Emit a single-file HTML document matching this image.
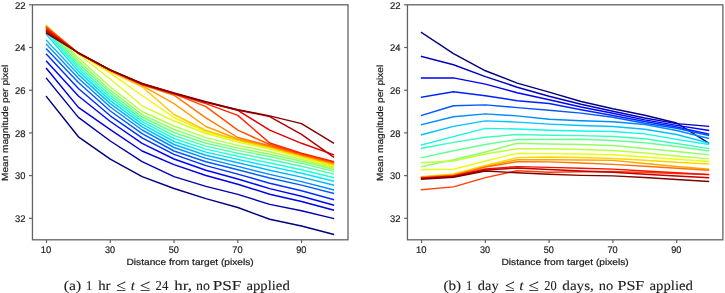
<!DOCTYPE html>
<html><head><meta charset="utf-8"><title>Figure</title>
<style>
html,body{margin:0;padding:0;background:#fff;}
body{width:725px;height:293px;overflow:hidden;}
svg{display:block;will-change:transform;}
text{font-family:"Liberation Sans",sans-serif;text-rendering:geometricPrecision;}
.tk{fill:#1e1e1e;stroke:#1e1e1e;stroke-width:0.2px;}
.lb{fill:#1e1e1e;stroke:#1e1e1e;stroke-width:0.22px;}
.cap{font-family:"Liberation Serif",serif;fill:#222;stroke:#222;stroke-width:0.1px;}
</style></head><body>
<svg width="725" height="293" viewBox="0 0 725 293">
<rect width="725" height="293" fill="#fff"/>
<defs><clipPath id="c0"><rect x="32.45" y="4.80" width="315.55" height="235.00"/></clipPath><clipPath id="c1"><rect x="407.45" y="4.80" width="315.45" height="235.00"/></clipPath></defs>
<g clip-path="url(#c0)"><g fill="none" stroke-width="1.45" stroke-linejoin="round" stroke-linecap="square">
<polyline points="46.5,96.6 78.4,136.8 110.3,159.2 142.1,176.6 174.0,188.5 205.9,198.6 237.8,207.5 269.7,219.2 301.5,226.0 333.4,234.3" stroke="#000080"/>
<polyline points="46.5,78.4 78.4,117.4 110.3,141.0 142.1,161.7 174.0,176.6 205.9,186.4 237.8,194.4 269.7,204.4 301.5,210.8 333.4,218.5" stroke="#0000b2"/>
<polyline points="46.5,68.5 78.4,107.4 110.3,129.6 142.1,151.0 174.0,164.6 205.9,175.5 237.8,184.2 269.7,194.2 301.5,201.5 333.4,210.1" stroke="#0000e4"/>
<polyline points="46.5,61.2 78.4,96.0 110.3,121.5 142.1,143.3 174.0,159.0 205.9,170.2 237.8,179.0 269.7,188.6 301.5,196.2 333.4,205.0" stroke="#0006ff"/>
<polyline points="46.5,54.2 78.4,88.5 110.3,115.8 142.1,137.8 174.0,154.4 205.9,165.6 237.8,174.1 269.7,183.3 301.5,190.8 333.4,199.5" stroke="#0032ff"/>
<polyline points="46.5,49.0 78.4,82.5 110.3,111.0 142.1,133.6 174.0,151.0 205.9,161.8 237.8,169.8 269.7,178.0 301.5,185.1 333.4,193.3" stroke="#005eff"/>
<polyline points="46.5,44.4 78.4,78.2 110.3,107.0 142.1,130.0 174.0,147.5 205.9,158.4 237.8,166.4 269.7,174.4 301.5,181.6 333.4,189.8" stroke="#008bff"/>
<polyline points="46.5,40.4 78.4,74.6 110.3,103.6 142.1,126.9 174.0,144.5 205.9,155.2 237.8,162.8 269.7,170.2 301.5,177.1 333.4,185.1" stroke="#00b7ff"/>
<polyline points="46.5,34.6 78.4,71.4 110.3,100.6 142.1,124.1 174.0,141.5 205.9,152.1 237.8,159.4 269.7,166.4 301.5,173.2 333.4,181.0" stroke="#00e3f9"/>
<polyline points="46.5,32.0 78.4,68.6 110.3,97.9 142.1,121.6 174.0,138.5 205.9,149.1 237.8,156.3 269.7,163.0 301.5,169.7 333.4,177.5" stroke="#22ffd5"/>
<polyline points="46.5,30.0 78.4,66.0 110.3,95.3 142.1,119.3 174.0,135.5 205.9,146.1 237.8,153.2 269.7,159.5 301.5,166.3 333.4,174.0" stroke="#46ffb1"/>
<polyline points="46.5,27.6 78.4,63.4 110.3,92.8 142.1,117.0 174.0,132.5 205.9,143.2 237.8,150.4 269.7,156.5 301.5,163.4 333.4,171.2" stroke="#6aff8d"/>
<polyline points="46.5,25.9 78.4,60.7 110.3,90.2 142.1,114.6 174.0,129.5 205.9,140.6 237.8,148.0 269.7,154.2 301.5,161.3 333.4,169.4" stroke="#8dff6a"/>
<polyline points="46.5,25.2 78.4,57.9 110.3,87.0 142.1,111.5 174.0,126.0 205.9,137.6 237.8,145.4 269.7,151.8 301.5,159.5 333.4,168.0" stroke="#b1ff46"/>
<polyline points="46.5,26.6 78.4,54.3 110.3,79.0 142.1,105.8 174.0,121.0 205.9,133.5 237.8,142.0 269.7,149.0 301.5,157.5 333.4,166.8" stroke="#d5ff22"/>
<polyline points="46.5,27.0 78.4,53.5 110.3,73.2 142.1,95.5 174.0,117.5 205.9,131.8 237.8,140.6 269.7,148.0 301.5,156.8 333.4,165.7" stroke="#f9f400"/>
<polyline points="46.5,27.4 78.4,53.4 110.3,71.6 142.1,86.8 174.0,114.5 205.9,130.5 237.8,140.0 269.7,147.3 301.5,156.1 333.4,164.6" stroke="#ffca00"/>
<polyline points="46.5,26.5 78.4,53.3 110.3,70.4 142.1,85.6 174.0,103.7 205.9,126.5 237.8,139.0 269.7,146.5 301.5,155.4 333.4,163.6" stroke="#ffa100"/>
<polyline points="46.5,26.9 78.4,53.2 110.3,70.3 142.1,84.9 174.0,95.2 205.9,117.9 237.8,137.5 269.7,145.8 301.5,154.7 333.4,162.8" stroke="#ff7800"/>
<polyline points="46.5,27.6 78.4,53.2 110.3,70.3 142.1,84.6 174.0,93.8 205.9,106.6 237.8,130.2 269.7,144.5 301.5,154.0 333.4,162.1" stroke="#ff4f00"/>
<polyline points="46.5,28.7 78.4,53.1 110.3,70.2 142.1,84.3 174.0,93.9 205.9,103.6 237.8,115.4 269.7,143.0 301.5,153.2 333.4,161.4" stroke="#ff2600"/>
<polyline points="46.5,30.1 78.4,53.0 110.3,70.1 142.1,84.0 174.0,93.6 205.9,102.4 237.8,110.3 269.7,130.2 301.5,143.3 333.4,154.6" stroke="#e40000"/>
<polyline points="46.5,31.7 78.4,53.0 110.3,70.1 142.1,83.7 174.0,93.3 205.9,102.1 237.8,110.0 269.7,116.6 301.5,134.3 333.4,157.0" stroke="#b20000"/>
<polyline points="46.5,33.2 78.4,52.9 110.3,70.0 142.1,83.4 174.0,93.0 205.9,101.8 237.8,109.7 269.7,115.9 301.5,123.6 333.4,143.0" stroke="#800000"/>
</g></g>
<g clip-path="url(#c1)"><g fill="none" stroke-width="1.45" stroke-linejoin="round" stroke-linecap="square">
<polyline points="421.6,32.6 453.5,53.7 485.4,70.8 517.2,83.1 549.1,92.1 581.0,101.5 612.9,108.8 644.8,115.2 676.6,123.0 708.5,143.0" stroke="#000080"/>
<polyline points="421.6,56.4 453.5,64.8 485.4,76.6 517.2,87.2 549.1,96.2 581.0,104.3 612.9,111.3 644.8,118.0 676.6,123.6 708.5,126.3" stroke="#0000bd"/>
<polyline points="421.6,77.9 453.5,77.9 485.4,84.1 517.2,92.8 549.1,99.7 581.0,107.0 612.9,113.2 644.8,119.9 676.6,125.4 708.5,130.3" stroke="#0000fa"/>
<polyline points="421.6,97.1 453.5,91.7 485.4,95.7 517.2,100.7 549.1,103.5 581.0,109.7 612.9,115.5 644.8,121.5 676.6,127.0 708.5,134.1" stroke="#0022ff"/>
<polyline points="421.6,115.4 453.5,105.8 485.4,104.9 517.2,107.6 549.1,110.3 581.0,113.1 612.9,117.3 644.8,123.2 676.6,128.3 708.5,135.3" stroke="#0057ff"/>
<polyline points="421.6,124.7 453.5,116.7 485.4,113.9 517.2,115.9 549.1,119.3 581.0,120.7 612.9,121.7 644.8,124.5 676.6,130.5 708.5,138.3" stroke="#008dff"/>
<polyline points="421.6,134.8 453.5,126.4 485.4,120.9 517.2,122.1 549.1,124.1 581.0,125.5 612.9,126.5 644.8,129.2 676.6,134.5 708.5,142.9" stroke="#00c3ff"/>
<polyline points="421.6,144.9 453.5,136.6 485.4,128.4 517.2,129.0 549.1,130.3 581.0,131.0 612.9,131.5 644.8,133.9 676.6,139.4 708.5,144.3" stroke="#0ff8e8"/>
<polyline points="421.6,148.3 453.5,142.4 485.4,137.2 517.2,134.5 549.1,135.2 581.0,135.6 612.9,136.5 644.8,138.7 676.6,143.5 708.5,148.5" stroke="#3affbc"/>
<polyline points="421.6,157.6 453.5,150.7 485.4,144.5 517.2,139.5 549.1,139.5 581.0,139.3 612.9,140.5 644.8,142.8 676.6,146.5 708.5,150.9" stroke="#66ff91"/>
<polyline points="421.6,166.6 453.5,159.7 485.4,152.0 517.2,143.3 549.1,144.0 581.0,144.5 612.9,145.5 644.8,148.5 676.6,151.5 708.5,154.8" stroke="#91ff66"/>
<polyline points="421.6,162.7 453.5,161.0 485.4,154.0 517.2,148.8 549.1,148.8 581.0,149.5 612.9,150.5 644.8,153.0 676.6,156.0 708.5,158.8" stroke="#bcff3a"/>
<polyline points="421.6,169.7 453.5,169.3 485.4,161.0 517.2,153.4 549.1,153.6 581.0,154.0 612.9,154.8 644.8,157.0 676.6,159.2 708.5,161.5" stroke="#e8ff0f"/>
<polyline points="421.6,176.6 453.5,174.0 485.4,165.5 517.2,157.6 549.1,157.0 581.0,157.5 612.9,158.5 644.8,160.3 676.6,162.2 708.5,164.0" stroke="#ffd500"/>
<polyline points="421.6,177.0 453.5,175.0 485.4,166.6 517.2,159.7 549.1,159.8 581.0,160.0 612.9,160.4 644.8,163.5 676.6,166.5 708.5,169.1" stroke="#ffa400"/>
<polyline points="421.6,177.5 453.5,175.5 485.4,167.0 517.2,161.7 549.1,161.9 581.0,163.0 612.9,164.4 644.8,166.3 676.6,168.3 708.5,170.2" stroke="#ff7200"/>
<polyline points="421.6,189.7 453.5,186.9 485.4,177.6 517.2,170.7 549.1,172.2 581.0,171.8 612.9,171.5 644.8,172.5 676.6,173.5 708.5,174.4" stroke="#ff4000"/>
<polyline points="421.6,178.0 453.5,176.0 485.4,169.0 517.2,166.6 549.1,167.4 581.0,168.2 612.9,169.1 644.8,171.0 676.6,172.8 708.5,174.6" stroke="#fa0e00"/>
<polyline points="421.6,178.5 453.5,176.5 485.4,170.0 517.2,168.0 549.1,169.5 581.0,171.0 612.9,172.3 644.8,174.2 676.6,176.0 708.5,177.8" stroke="#bd0000"/>
<polyline points="421.6,179.3 453.5,177.2 485.4,171.0 517.2,172.8 549.1,174.3 581.0,175.4 612.9,175.9 644.8,177.5 676.6,179.5 708.5,181.4" stroke="#800000"/>
</g></g>
<rect x="32.45" y="4.80" width="315.55" height="235.00" fill="none" stroke="#636363" stroke-width="1.30"/>
<line x1="29.05" y1="4.80" x2="32.45" y2="4.80" stroke="#636363" stroke-width="1.2"/>
<text class="tk" x="14.97" y="8.50" font-size="9.60" textLength="10.57" lengthAdjust="spacingAndGlyphs">22</text>
<line x1="29.05" y1="47.50" x2="32.45" y2="47.50" stroke="#636363" stroke-width="1.2"/>
<text class="tk" x="14.98" y="51.20" font-size="9.60" textLength="10.37" lengthAdjust="spacingAndGlyphs">24</text>
<line x1="29.05" y1="90.20" x2="32.45" y2="90.20" stroke="#636363" stroke-width="1.2"/>
<text class="tk" x="14.98" y="93.90" font-size="9.60" textLength="10.52" lengthAdjust="spacingAndGlyphs">26</text>
<line x1="29.05" y1="132.90" x2="32.45" y2="132.90" stroke="#636363" stroke-width="1.2"/>
<text class="tk" x="14.98" y="136.60" font-size="9.60" textLength="10.47" lengthAdjust="spacingAndGlyphs">28</text>
<line x1="29.05" y1="175.60" x2="32.45" y2="175.60" stroke="#636363" stroke-width="1.2"/>
<text class="tk" x="15.08" y="179.30" font-size="9.60" textLength="10.37" lengthAdjust="spacingAndGlyphs">30</text>
<line x1="29.05" y1="218.30" x2="32.45" y2="218.30" stroke="#636363" stroke-width="1.2"/>
<text class="tk" x="15.07" y="222.00" font-size="9.60" textLength="10.47" lengthAdjust="spacingAndGlyphs">32</text>
<line x1="46.50" y1="239.80" x2="46.50" y2="243.10" stroke="#636363" stroke-width="1.2"/>
<text class="tk" x="40.79" y="253.00" font-size="9.60" textLength="10.51" lengthAdjust="spacingAndGlyphs">10</text>
<line x1="110.26" y1="239.80" x2="110.26" y2="243.10" stroke="#636363" stroke-width="1.2"/>
<text class="tk" x="104.89" y="253.00" font-size="9.60" textLength="10.15" lengthAdjust="spacingAndGlyphs">30</text>
<line x1="174.02" y1="239.80" x2="174.02" y2="243.10" stroke="#636363" stroke-width="1.2"/>
<text class="tk" x="168.65" y="253.00" font-size="9.60" textLength="10.15" lengthAdjust="spacingAndGlyphs">50</text>
<line x1="237.78" y1="239.80" x2="237.78" y2="243.10" stroke="#636363" stroke-width="1.2"/>
<text class="tk" x="232.32" y="253.00" font-size="9.60" textLength="10.25" lengthAdjust="spacingAndGlyphs">70</text>
<line x1="301.54" y1="239.80" x2="301.54" y2="243.10" stroke="#636363" stroke-width="1.2"/>
<text class="tk" x="296.13" y="253.00" font-size="9.60" textLength="10.20" lengthAdjust="spacingAndGlyphs">90</text>
<text class="lb" x="126.51" y="264.90" font-size="8.90" textLength="127.27" lengthAdjust="spacingAndGlyphs">Distance from target (pixels)</text>
<text class="lb" transform="rotate(-90)" x="-181.01" y="8.45" font-size="8.90" textLength="116.19" lengthAdjust="spacingAndGlyphs">Mean magnitude per pixel</text>
<rect x="407.45" y="4.80" width="315.45" height="235.00" fill="none" stroke="#636363" stroke-width="1.30"/>
<line x1="404.05" y1="4.80" x2="407.45" y2="4.80" stroke="#636363" stroke-width="1.2"/>
<text class="tk" x="389.97" y="8.50" font-size="9.60" textLength="10.57" lengthAdjust="spacingAndGlyphs">22</text>
<line x1="404.05" y1="47.50" x2="407.45" y2="47.50" stroke="#636363" stroke-width="1.2"/>
<text class="tk" x="389.98" y="51.20" font-size="9.60" textLength="10.37" lengthAdjust="spacingAndGlyphs">24</text>
<line x1="404.05" y1="90.20" x2="407.45" y2="90.20" stroke="#636363" stroke-width="1.2"/>
<text class="tk" x="389.98" y="93.90" font-size="9.60" textLength="10.52" lengthAdjust="spacingAndGlyphs">26</text>
<line x1="404.05" y1="132.90" x2="407.45" y2="132.90" stroke="#636363" stroke-width="1.2"/>
<text class="tk" x="389.98" y="136.60" font-size="9.60" textLength="10.47" lengthAdjust="spacingAndGlyphs">28</text>
<line x1="404.05" y1="175.60" x2="407.45" y2="175.60" stroke="#636363" stroke-width="1.2"/>
<text class="tk" x="390.08" y="179.30" font-size="9.60" textLength="10.37" lengthAdjust="spacingAndGlyphs">30</text>
<line x1="404.05" y1="218.30" x2="407.45" y2="218.30" stroke="#636363" stroke-width="1.2"/>
<text class="tk" x="390.07" y="222.00" font-size="9.60" textLength="10.47" lengthAdjust="spacingAndGlyphs">32</text>
<line x1="421.60" y1="239.80" x2="421.60" y2="243.10" stroke="#636363" stroke-width="1.2"/>
<text class="tk" x="415.89" y="253.00" font-size="9.60" textLength="10.51" lengthAdjust="spacingAndGlyphs">10</text>
<line x1="485.36" y1="239.80" x2="485.36" y2="243.10" stroke="#636363" stroke-width="1.2"/>
<text class="tk" x="479.99" y="253.00" font-size="9.60" textLength="10.15" lengthAdjust="spacingAndGlyphs">30</text>
<line x1="549.12" y1="239.80" x2="549.12" y2="243.10" stroke="#636363" stroke-width="1.2"/>
<text class="tk" x="543.75" y="253.00" font-size="9.60" textLength="10.15" lengthAdjust="spacingAndGlyphs">50</text>
<line x1="612.88" y1="239.80" x2="612.88" y2="243.10" stroke="#636363" stroke-width="1.2"/>
<text class="tk" x="607.42" y="253.00" font-size="9.60" textLength="10.25" lengthAdjust="spacingAndGlyphs">70</text>
<line x1="676.64" y1="239.80" x2="676.64" y2="243.10" stroke="#636363" stroke-width="1.2"/>
<text class="tk" x="671.23" y="253.00" font-size="9.60" textLength="10.20" lengthAdjust="spacingAndGlyphs">90</text>
<text class="lb" x="501.46" y="264.90" font-size="8.90" textLength="127.27" lengthAdjust="spacingAndGlyphs">Distance from target (pixels)</text>
<text class="lb" transform="rotate(-90)" x="-181.01" y="383.45" font-size="8.90" textLength="116.19" lengthAdjust="spacingAndGlyphs">Mean magnitude per pixel</text>
<g opacity="0.999"><text class="cap" x="63.84" y="289.50" font-size="13.60" textLength="17.41" lengthAdjust="spacingAndGlyphs">(a)</text>
<text class="cap" x="86.12" y="289.50" font-size="13.60" textLength="6.29" lengthAdjust="spacingAndGlyphs">1</text>
<text class="cap" x="98.20" y="289.50" font-size="13.60" textLength="12.37" lengthAdjust="spacingAndGlyphs">hr</text>
<text class="cap" x="116.34" y="291.20" font-size="16.50" textLength="9.68" lengthAdjust="spacingAndGlyphs">≤</text>
<text class="cap" x="130.67" y="289.50" font-size="13.60" textLength="4.22" lengthAdjust="spacingAndGlyphs" font-style="italic">t</text>
<text class="cap" x="139.90" y="291.20" font-size="16.50" textLength="10.27" lengthAdjust="spacingAndGlyphs">≤</text>
<text class="cap" x="155.58" y="289.50" font-size="13.60" textLength="12.66" lengthAdjust="spacingAndGlyphs">24</text>
<text class="cap" x="174.38" y="289.50" font-size="13.60" textLength="17.64" lengthAdjust="spacingAndGlyphs">hr,</text>
<text class="cap" x="196.00" y="289.50" font-size="13.60" textLength="13.90" lengthAdjust="spacingAndGlyphs">no</text>
<text class="cap" x="212.74" y="289.50" font-size="13.60" textLength="28.57" lengthAdjust="spacingAndGlyphs">PSF</text>
<text class="cap" x="246.43" y="289.50" font-size="13.60" textLength="43.34" lengthAdjust="spacingAndGlyphs">applied</text><text class="cap" x="443.47" y="289.50" font-size="13.60" textLength="17.71" lengthAdjust="spacingAndGlyphs">(b)</text>
<text class="cap" x="466.12" y="289.50" font-size="13.60" textLength="6.29" lengthAdjust="spacingAndGlyphs">1</text>
<text class="cap" x="477.84" y="289.50" font-size="13.60" textLength="20.86" lengthAdjust="spacingAndGlyphs">day</text>
<text class="cap" x="505.04" y="291.20" font-size="16.50" textLength="9.68" lengthAdjust="spacingAndGlyphs">≤</text>
<text class="cap" x="519.35" y="289.50" font-size="13.60" textLength="4.33" lengthAdjust="spacingAndGlyphs" font-style="italic">t</text>
<text class="cap" x="528.59" y="291.20" font-size="16.50" textLength="10.39" lengthAdjust="spacingAndGlyphs">≤</text>
<text class="cap" x="544.29" y="289.50" font-size="13.60" textLength="12.35" lengthAdjust="spacingAndGlyphs">20</text>
<text class="cap" x="562.32" y="289.50" font-size="13.60" textLength="31.59" lengthAdjust="spacingAndGlyphs">days,</text>
<text class="cap" x="598.89" y="289.50" font-size="13.60" textLength="14.44" lengthAdjust="spacingAndGlyphs">no</text>
<text class="cap" x="617.57" y="289.50" font-size="13.60" textLength="26.70" lengthAdjust="spacingAndGlyphs">PSF</text>
<text class="cap" x="649.43" y="289.50" font-size="13.60" textLength="43.54" lengthAdjust="spacingAndGlyphs">applied</text></g>
</svg>
</body></html>
